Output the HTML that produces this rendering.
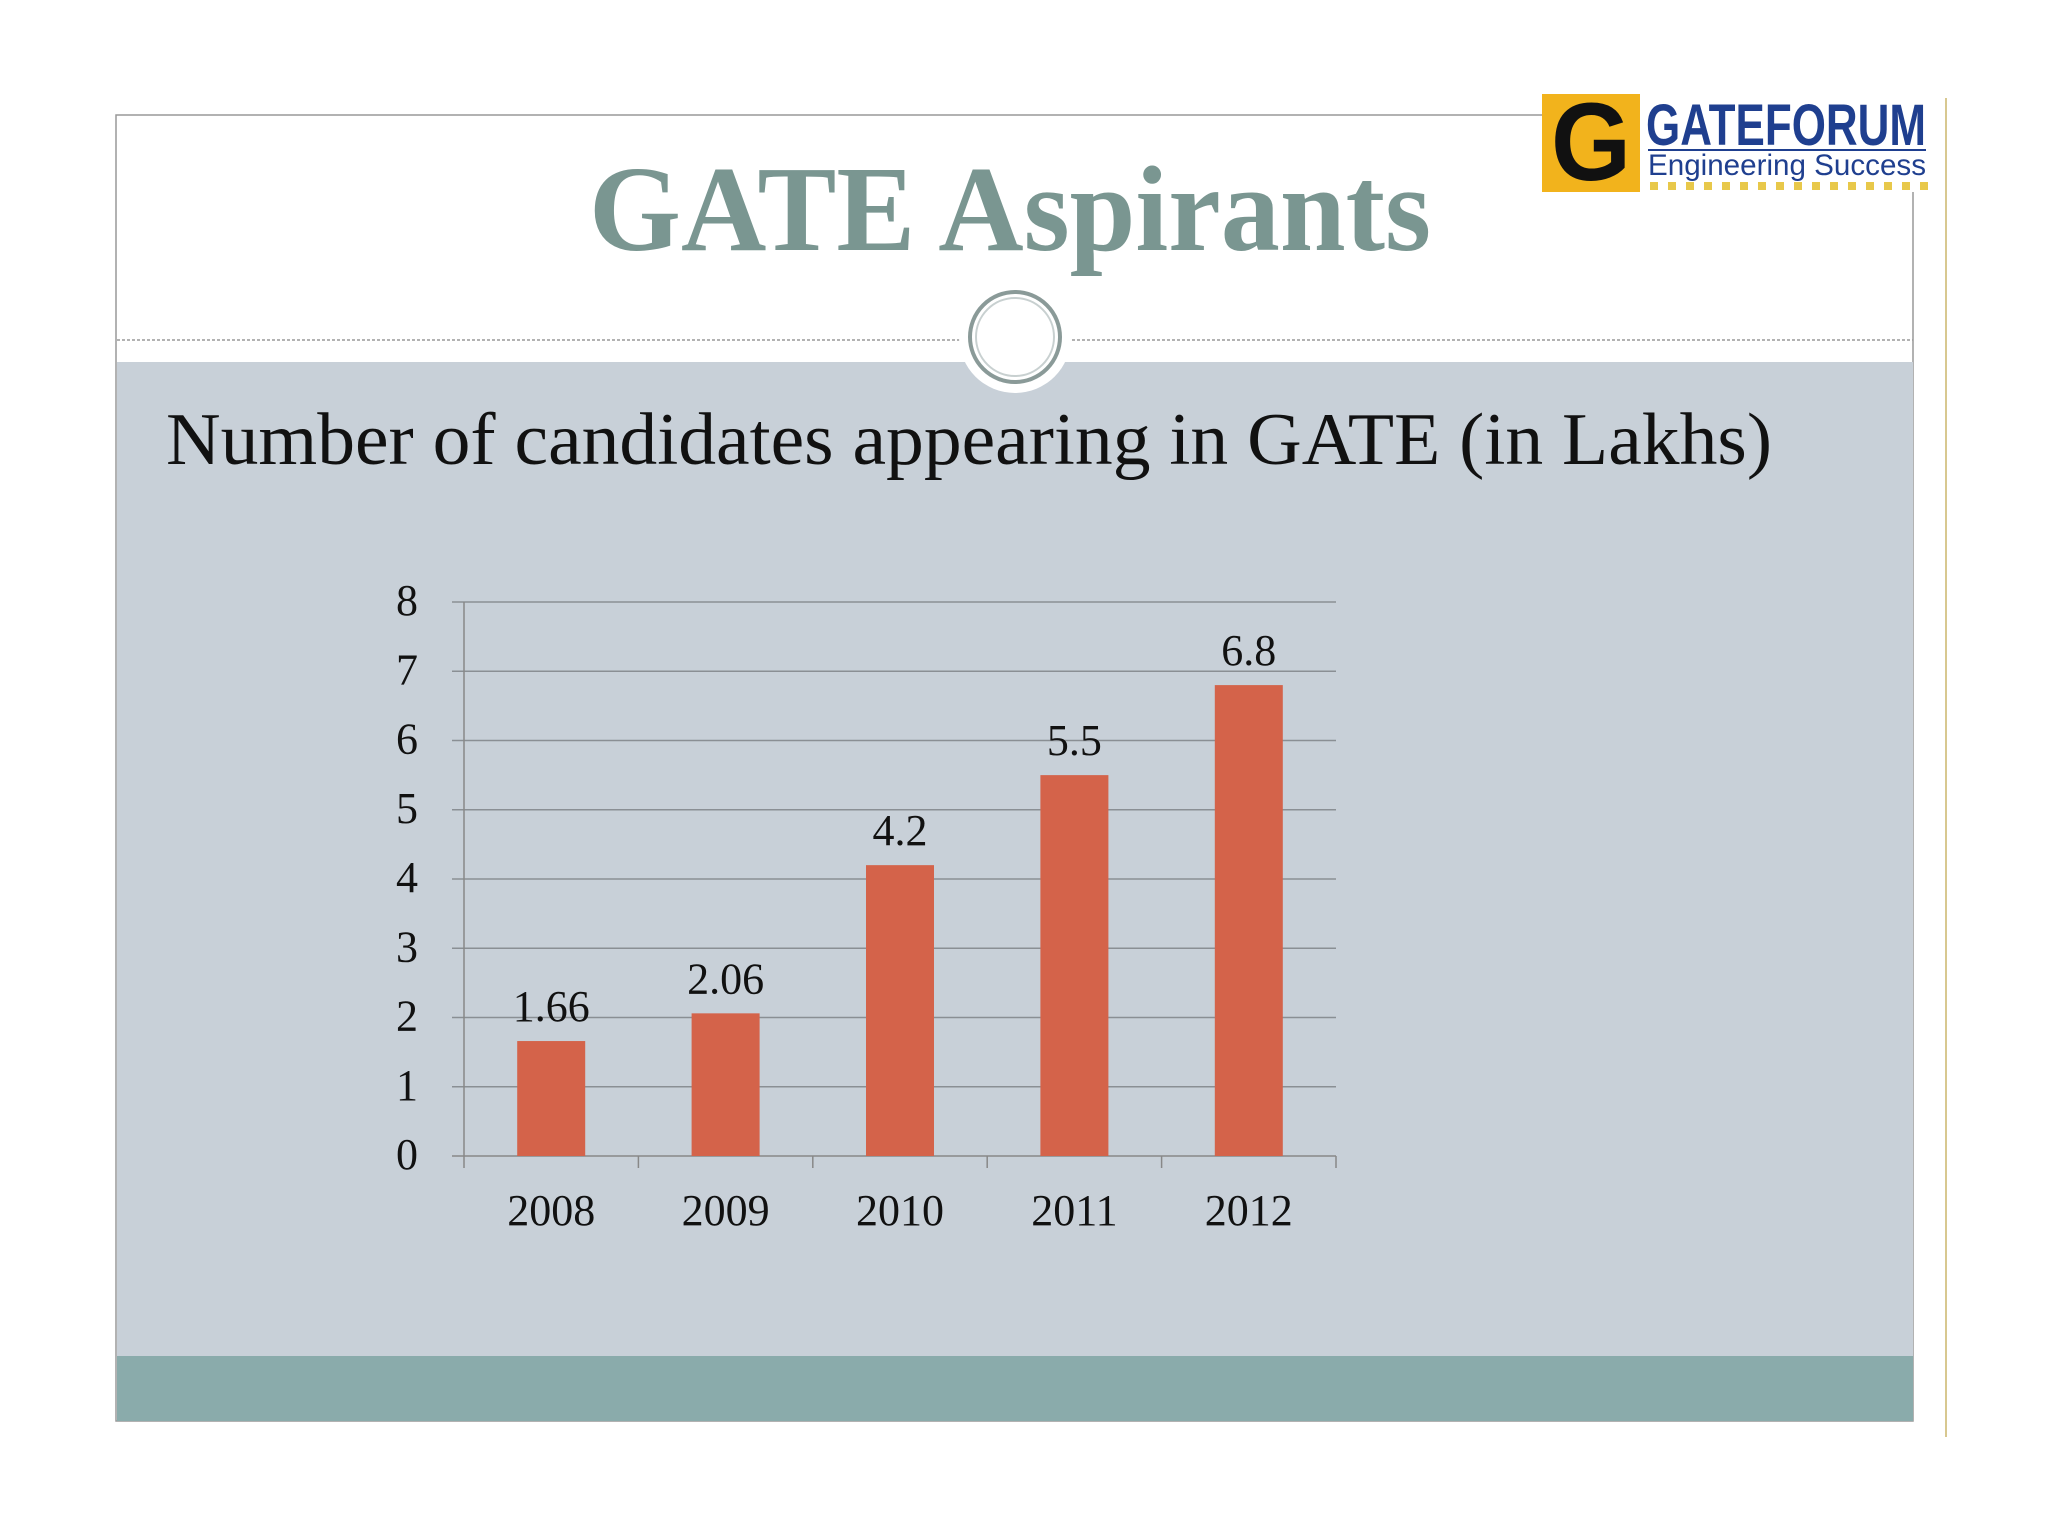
<!DOCTYPE html>
<html><head><meta charset="utf-8"><style>
body{margin:0;width:2048px;height:1536px;background:#fff;overflow:hidden;position:relative;font-family:"Liberation Serif",serif}
</style></head><body>
<svg width="2048" height="1536" xmlns="http://www.w3.org/2000/svg" style="position:absolute;left:0;top:0">
<rect x="116" y="115" width="1797" height="1306" fill="#fff" stroke="#999" stroke-width="1.5"/>
<rect x="117" y="362" width="1796" height="994" fill="#c8d0d8"/>
<rect x="117" y="1356" width="1796" height="65" fill="#8aabab"/>
<line x1="117" y1="340" x2="1913" y2="340" stroke="#999" stroke-width="1.5" stroke-dasharray="3,2"/>
<circle cx="1015" cy="337" r="56" fill="#fff"/>
<circle cx="1015" cy="337" r="45" fill="none" stroke="#8a9a98" stroke-width="4"/>
<circle cx="1015" cy="337" r="39" fill="none" stroke="#c8d0d0" stroke-width="2"/>
<line x1="1946" y1="98" x2="1946" y2="1437" stroke="#d8c890" stroke-width="2"/>
<text x="1010" y="250" text-anchor="middle" font-size="122" font-weight="bold" fill="#7a9691" font-family="Liberation Serif,serif" textLength="842" lengthAdjust="spacingAndGlyphs">GATE Aspirants</text>
<text x="166" y="464" font-size="74" fill="#111" font-family="Liberation Serif,serif" textLength="1606" lengthAdjust="spacingAndGlyphs">Number of candidates appearing in GATE (in Lakhs)</text>
<g>
<rect x="1542" y="94" width="98" height="98" fill="#f2b31c"/>
<text x="1591" y="180" text-anchor="middle" font-size="110" font-weight="bold" fill="#111" font-family="Liberation Sans,sans-serif" textLength="80" lengthAdjust="spacingAndGlyphs">G</text>
<rect x="1640" y="94" width="289" height="98" fill="#fff"/>
<text x="1646" y="145" font-size="58" font-weight="bold" fill="#1f3f8f" font-family="Liberation Sans,sans-serif" textLength="280" lengthAdjust="spacingAndGlyphs">GATEFORUM</text>
<line x1="1648" y1="150" x2="1926" y2="150" stroke="#1f3f8f" stroke-width="2"/>
<text x="1648" y="175" font-size="30" fill="#1f3f8f" font-family="Liberation Sans,sans-serif" textLength="278" lengthAdjust="spacingAndGlyphs">Engineering Success</text>
<line x1="1650" y1="186" x2="1928" y2="186" stroke="#e8c84a" stroke-width="8" stroke-dasharray="8,10"/>
</g>
<g id="chart"></g>
</svg>
<script>
const categories=["2008","2009","2010","2011","2012"];
const values=[1.66,2.06,4.2,5.5,6.8];
const valueLabels=["1.66","2.06","4.2","5.5","6.8"];
const yTicks=[0,1,2,3,4,5,6,7,8];
const NS="http://www.w3.org/2000/svg";
const g=document.getElementById("chart");
const L=464,R=1336,B=1156,T=602,yMax=8;
const y=v=>B-(v/yMax)*(B-T);
const bw=(R-L)/categories.length;
const x=i=>L+bw*(i+0.5);
function mk(t,a){const e=document.createElementNS(NS,t);for(const k in a)e.setAttribute(k,a[k]);g.appendChild(e);return e;}
yTicks.forEach(t=>{
  const ln=mk("line",{x1:L-12,x2:R,y1:y(t),y2:y(t),stroke:t===0?"#888":"#8a8f94","stroke-width":1.5});
  
  
  const tx=mk("text",{x:418,y:y(t)+13,"text-anchor":"end","font-size":44,fill:"#111"});
  tx.textContent=t;
  
  
});
const ax=mk("line",{x1:L,x2:L,y1:T,y2:B,stroke:"#888","stroke-width":1.5});


for(let i=0;i<=categories.length;i++){
  const tk=mk("line",{x1:L+bw*i,x2:L+bw*i,y1:B,y2:B+12,stroke:"#888","stroke-width":1.5});
  
  
}
categories.forEach((c,i)=>{
  const w=68;
  const r=mk("rect",{x:x(i)-w/2,y:y(values[i]),width:w,height:B-y(values[i]),fill:"#d4634a"});
  
  
  const vl=mk("text",{x:x(i),y:y(values[i])-20,"text-anchor":"middle","font-size":44,fill:"#111"});
  vl.textContent=valueLabels[i];
  
  
  const cl=mk("text",{x:x(i),y:1225,"text-anchor":"middle","font-size":44,fill:"#111"});
  cl.textContent=c;
  
  
});
</script>
</body></html>
